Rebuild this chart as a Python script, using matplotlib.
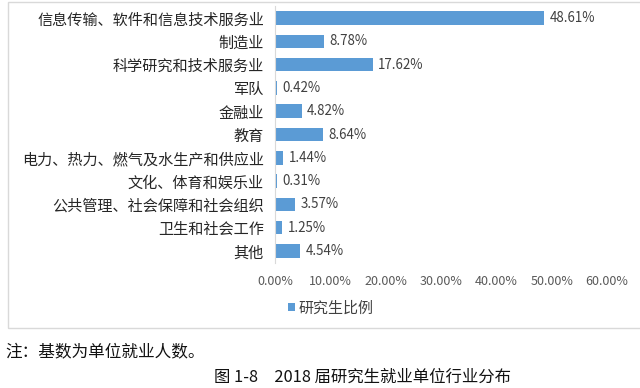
import numpy as np
import matplotlib.pyplot as plt
from matplotlib.patches import Rectangle

plt.rcParams['font.family'] = ['Noto Sans CJK SC', 'DejaVu Sans']

# 行业分类与研究生比例（%）
categories = ['信息传输、软件和信息技术服务业', '制造业', '科学研究和技术服务业', '军队',
              '金融业', '教育', '电力、热力、燃气及水生产和供应业', '文化、体育和娱乐业',
              '公共管理、社会保障和社会组织', '卫生和社会工作', '其他']
values = [48.61, 8.78, 17.62, 0.42, 4.82, 8.64, 1.44, 0.31, 3.57, 1.25, 4.54]
xticks = [0, 10, 20, 30, 40, 50, 60]
series_name = '研究生比例'
note = '注：基数为单位就业人数。'
caption = '图 1-8　2018 届研究生就业单位行业分布'

bar_color = '#5B9BD5'
text_color = '#404040'

fig = plt.figure(figsize=(6.4, 3.88), dpi=100)
ax = fig.add_axes([0.4297, 0.3232, 0.5188, 0.6603])

y = np.arange(len(categories))
ax.barh(y, values, height=0.58, color=bar_color, label=series_name)
for yi, v in zip(y, values):
    ax.text(v + 1.0, yi, f'{v:.2f}%', va='center', ha='left',
            fontsize=9.6, color=text_color)

ax.set_ylim(len(categories) - 0.5, -0.5)
ax.set_xlim(0, 60)
ax.set_yticks(y)
ax.set_yticklabels(categories, fontsize=10.9, color='#262626')
ax.set_xticks(xticks)
ax.set_xticklabels([f'{t:.2f}%' for t in xticks], fontsize=9, color='#595959')
ax.tick_params(axis='both', length=0)
ax.tick_params(axis='y', pad=8)
ax.tick_params(axis='x', pad=9)
for s in ['top', 'right', 'bottom']:
    ax.spines[s].set_visible(False)
ax.spines['left'].set_color('#d9d9d9')
ax.spines['left'].set_linewidth(0.8)

# 图例
leg = fig.legend(loc='center', bbox_to_anchor=(0.517, 0.206), frameon=False,
                 fontsize=10.8, handlelength=0.5, handleheight=0.5,
                 handletextpad=0.25)
for t in leg.get_texts():
    t.set_color(text_color)

# 图表外框
fig.patches.append(Rectangle((8 / 640, 1 - 328 / 388), 640, 326 / 388,
                             transform=fig.transFigure, fill=False,
                             edgecolor='#d9d9d9', linewidth=1.0))

fig.text(5 / 640, 1 - 352 / 388, note, fontsize=12, color='#111111', va='center')
fig.text(363 / 640, 1 - 377 / 388, caption, fontsize=11.8, color='#111111',
         va='center', ha='center')

fig.savefig('out.png', dpi=100)
